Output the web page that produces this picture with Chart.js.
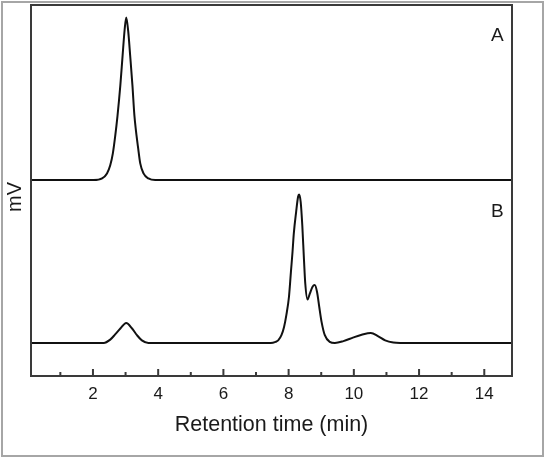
<!DOCTYPE html>
<html>
<head>
<meta charset="utf-8">
<script src="https://cdn.jsdelivr.net/npm/chart.js@4"></script>
<style>
  html, body { margin: 0; padding: 0; background: #fff; }
  canvas { display: block; }
</style>
</head>
<body>
<canvas id="chrom" width="550" height="460"></canvas>
<script>
// trace A (standard)
const timeA = [0.1, 2.02, 2.28, 2.43, 2.53, 2.61, 2.68, 2.75, 2.84, 2.91, 2.97, 3.02, 3.08, 3.14, 3.21, 3.27, 3.32, 3.38, 3.45, 3.55, 3.70, 3.91, 14.85];
const mvA = [52.8, 52.8, 53.25, 54.6, 56.8, 60.0, 64.5, 69.9, 78.4, 86.5, 93.2, 96.6, 93.0, 86.5, 78.4, 70.3, 66.0, 61.8, 57.3, 54.6, 53.25, 52.8, 52.8];

// trace B (sample)
const timeB = [0.1, 2.33, 2.53, 2.68, 2.84, 3.02, 3.20, 3.35, 3.50, 3.70, 7.45, 7.60, 7.68, 7.78, 7.86, 7.93, 8.01, 8.07, 8.12, 8.16, 8.23, 8.29, 8.32, 8.37, 8.42, 8.47, 8.51, 8.58, 8.65, 8.73, 8.80, 8.87, 8.94, 9.01, 9.11, 9.26, 9.42, 9.68, 9.99, 10.24, 10.52, 10.75, 10.96, 11.21, 11.42, 14.85];
const mvB = [8.9, 8.9, 9.8, 11.2, 12.8, 14.3, 12.8, 11.0, 9.6, 8.9, 8.9, 9.2, 9.6, 11.0, 13.2, 16.4, 21.3, 28.0, 33.5, 38.5, 44.2, 48.3, 48.9, 46.9, 40.5, 31.5, 25.0, 20.6, 22.2, 24.0, 24.5, 22.7, 18.6, 14.6, 11.0, 9.2, 8.9, 9.4, 10.4, 11.1, 11.6, 10.7, 9.6, 9.0, 8.9, 8.9];

const majorTicks = [2, 4, 6, 8, 10, 12, 14];
const minorTicks = [1, 3, 5, 7, 9, 11, 13];

const FONT = 'Arial, "Liberation Sans", sans-serif';

const pts = (xs, ys) => xs.map((x, i) => ({ x: x, y: ys[i] }));

// frame, axis box, inward ticks, panel letters and the y title
const decor = {
  id: 'decor',
  beforeDraw(chart) {
    const ctx = chart.ctx;
    ctx.save();
    ctx.fillStyle = '#fff';
    ctx.fillRect(0, 0, chart.width, chart.height);
    ctx.strokeStyle = '#a6a6a6';
    ctx.lineWidth = 2;
    ctx.strokeRect(2, 2, 541, 454);
    ctx.restore();
  },
  afterDatasetsDraw(chart) {
    const ctx = chart.ctx;
    const a = chart.chartArea;
    const xs = chart.scales.x, ys = chart.scales.y;
    ctx.save();
    ctx.strokeStyle = '#3a3a3a';
    ctx.lineWidth = 2;
    ctx.strokeRect(a.left, a.top, a.right - a.left, a.bottom - a.top);
    ctx.beginPath();
    majorTicks.forEach(v => {
      const px = xs.getPixelForValue(v);
      ctx.moveTo(px, a.bottom);
      ctx.lineTo(px, a.bottom - 7);
    });
    minorTicks.forEach(v => {
      const px = xs.getPixelForValue(v);
      ctx.moveTo(px, a.bottom);
      ctx.lineTo(px, a.bottom - 4);
    });
    ctx.stroke();

    ctx.fillStyle = '#1a1a1a';
    ctx.font = '19px ' + FONT;
    ctx.textAlign = 'center';
    ctx.textBaseline = 'middle';
    [{ t: 'A', x: 14.4, y: 91.6 }, { t: 'B', x: 14.4, y: 44.2 }].forEach(l => {
      ctx.fillText(l.t, xs.getPixelForValue(l.x), ys.getPixelForValue(l.y));
    });

    ctx.translate(15, 197);
    ctx.rotate(-Math.PI / 2);
    ctx.font = '20px ' + FONT;
    ctx.fillText('mV', 0, 0);
    ctx.restore();
  }
};

new Chart(document.getElementById('chrom'), {
  type: 'line',
  data: {
    datasets: [
      { label: 'A', data: pts(timeA, mvA) },
      { label: 'B', data: pts(timeB, mvB) }
    ]
  },
  options: {
    responsive: false,
    animation: false,
    devicePixelRatio: 1,
    layout: { padding: { top: 5, right: 38, left: 0, bottom: 0 } },
    elements: {
      point: { radius: 0 },
      line: { borderColor: '#111', borderWidth: 2, cubicInterpolationMode: 'monotone', fill: false }
    },
    plugins: {
      legend: { display: false },
      tooltip: { enabled: false }
    },
    scales: {
      x: {
        type: 'linear',
        min: 0.1,
        max: 14.85,
        afterBuildTicks: s => { s.ticks = majorTicks.map(v => ({ value: v })); },
        afterFit: s => { s.height = 84; },
        grid: { display: false, drawTicks: false, tickLength: 0 },
        border: { display: false },
        ticks: {
          autoSkip: false,
          maxRotation: 0,
          padding: 8,
          color: '#1a1a1a',
          font: { family: FONT, size: 17 }
        },
        title: {
          display: true,
          text: 'Retention time (min)',
          color: '#1a1a1a',
          font: { family: FONT, size: 21.5 },
          padding: { top: 0, bottom: 22 }
        }
      },
      y: {
        min: 0,
        max: 100,
        afterFit: s => { s.width = 31; },
        grid: { display: false, drawTicks: false },
        border: { display: false },
        ticks: { display: false }
      }
    }
  },
  plugins: [decor]
});
</script>
</body>
</html>
